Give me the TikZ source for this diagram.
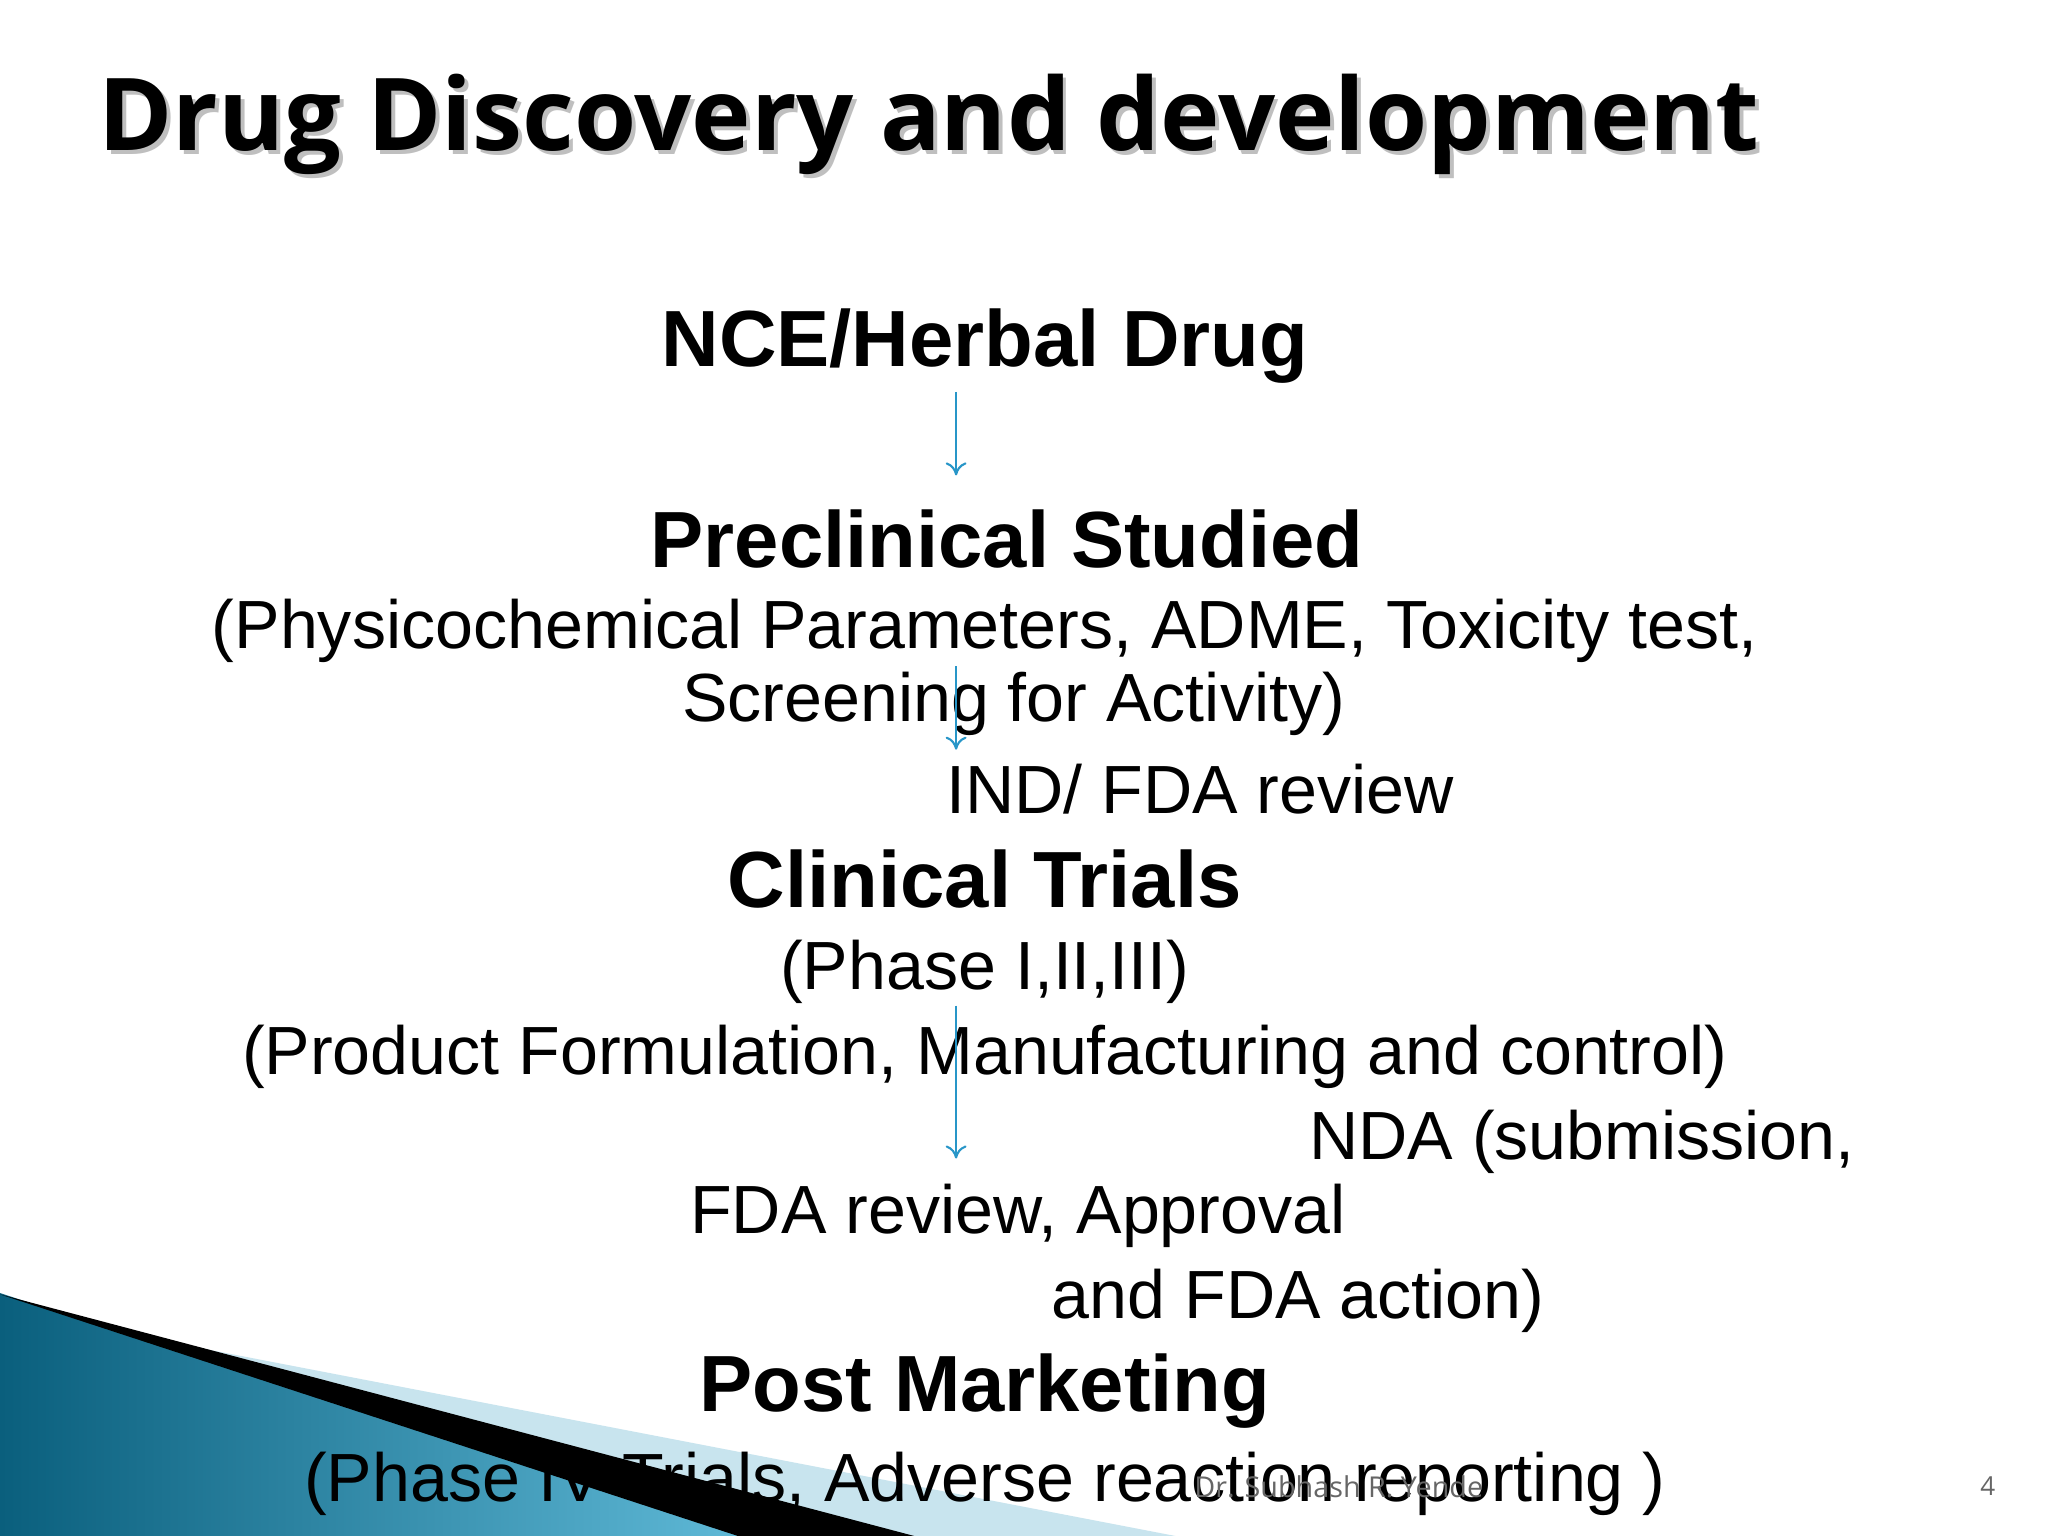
\documentclass[tikz,border=0pt]{standalone}
\usepackage{fontspec}
\usetikzlibrary{arrows.meta}
\setmainfont{Liberation Sans}
\newfontfamily\titlefont{Open Sans}
\definecolor{lightb}{RGB}{200,228,238}
\definecolor{darkb}{RGB}{10,95,125}
\definecolor{midb}{RGB}{95,185,215}
\definecolor{arrc}{RGB}{40,150,200}
\begin{document}
\begin{tikzpicture}[x=0.5pt,y=-0.5pt,
  body/.style={font=\fontsize{26.1}{30}\selectfont, inner sep=0pt},
  head/.style={font=\fontsize{30.5}{36}\selectfont\bfseries, inner sep=0pt},
  arr/.style={draw=arrc, line width=0.8pt, -{To[length=5pt,width=8pt]}}]
\useasboundingbox (0,0) rectangle (1568,1176);
\fill[white] (0,0) rectangle (1568,1176);
% decoration
\fill[lightb] (80,1018) -- (900,1176) -- (690,1176) -- cycle;
\shade[left color=darkb, right color=midb] (0,990) -- (570,1176) -- (0,1176) -- cycle;
\fill[black] (0,991) -- (700,1176) -- (565,1176) -- cycle;
% title
\node[anchor=west, inner sep=0pt, text=gray!50, font=\titlefont\fontsize{38.5}{46}\selectfont\bfseries] at (78,98) {Drug Discovery and development};
\node[anchor=west, inner sep=0pt, font=\titlefont\fontsize{38.5}{46}\selectfont\bfseries] (title) at (75,95) {Drug Discovery and development};
% content
\node[head] (nce) at (754,265) {NCE/Herbal Drug};
\node[head] (pre) at (771,413) {Preclinical Studied};
\node[body] (p1) at (754,483) {(Physicochemical Parameters, ADME, Toxicity test,};
\node[body] (p2) at (776,539) {Screening for Activity)};
\node[body, anchor=west] (ind) at (724,604) {IND/ FDA review};
\node[head] (ct) at (754,673) {Clinical Trials};
\node[body] (c1) at (754,744) {(Phase I,II,III)};
\node[body] (c2) at (754,809) {(Product Formulation, Manufacturing and control)};
\node[body, anchor=west] (nda) at (1002,874) {NDA (submission,};
\node[body, anchor=west] (fda) at (528,931) {FDA review, Approval};
\node[body, anchor=west] (act) at (805,996) {and FDA action)};
\node[head] (pm) at (754,1065) {Post Marketing};
\node[body] (pm1) at (754,1136) {(Phase IV Trials, Adverse reaction reporting )};
\node[inner sep=0pt, text=gray!80!black, font=\titlefont\fontsize{11}{12}\selectfont] (auth) at (1025,1138) {Dr. Subhash R. Yende};
\node[inner sep=0pt, text=gray!80!black, font=\titlefont\fontsize{10}{12}\selectfont] (pg) at (1522,1138) {4};
% arrows
\coordinate (a1) at (732,300); \coordinate (a2) at (732,364);
\coordinate (b1) at (732,510); \coordinate (b2) at (732,574);
\coordinate (c1a) at (732,770); \coordinate (c2a) at (732,887);
\draw[arr] (a1) -- (a2);
\draw[arr] (b1) -- (b2);
\draw[arr] (c1a) -- (c2a);
\end{tikzpicture}
\end{document}
